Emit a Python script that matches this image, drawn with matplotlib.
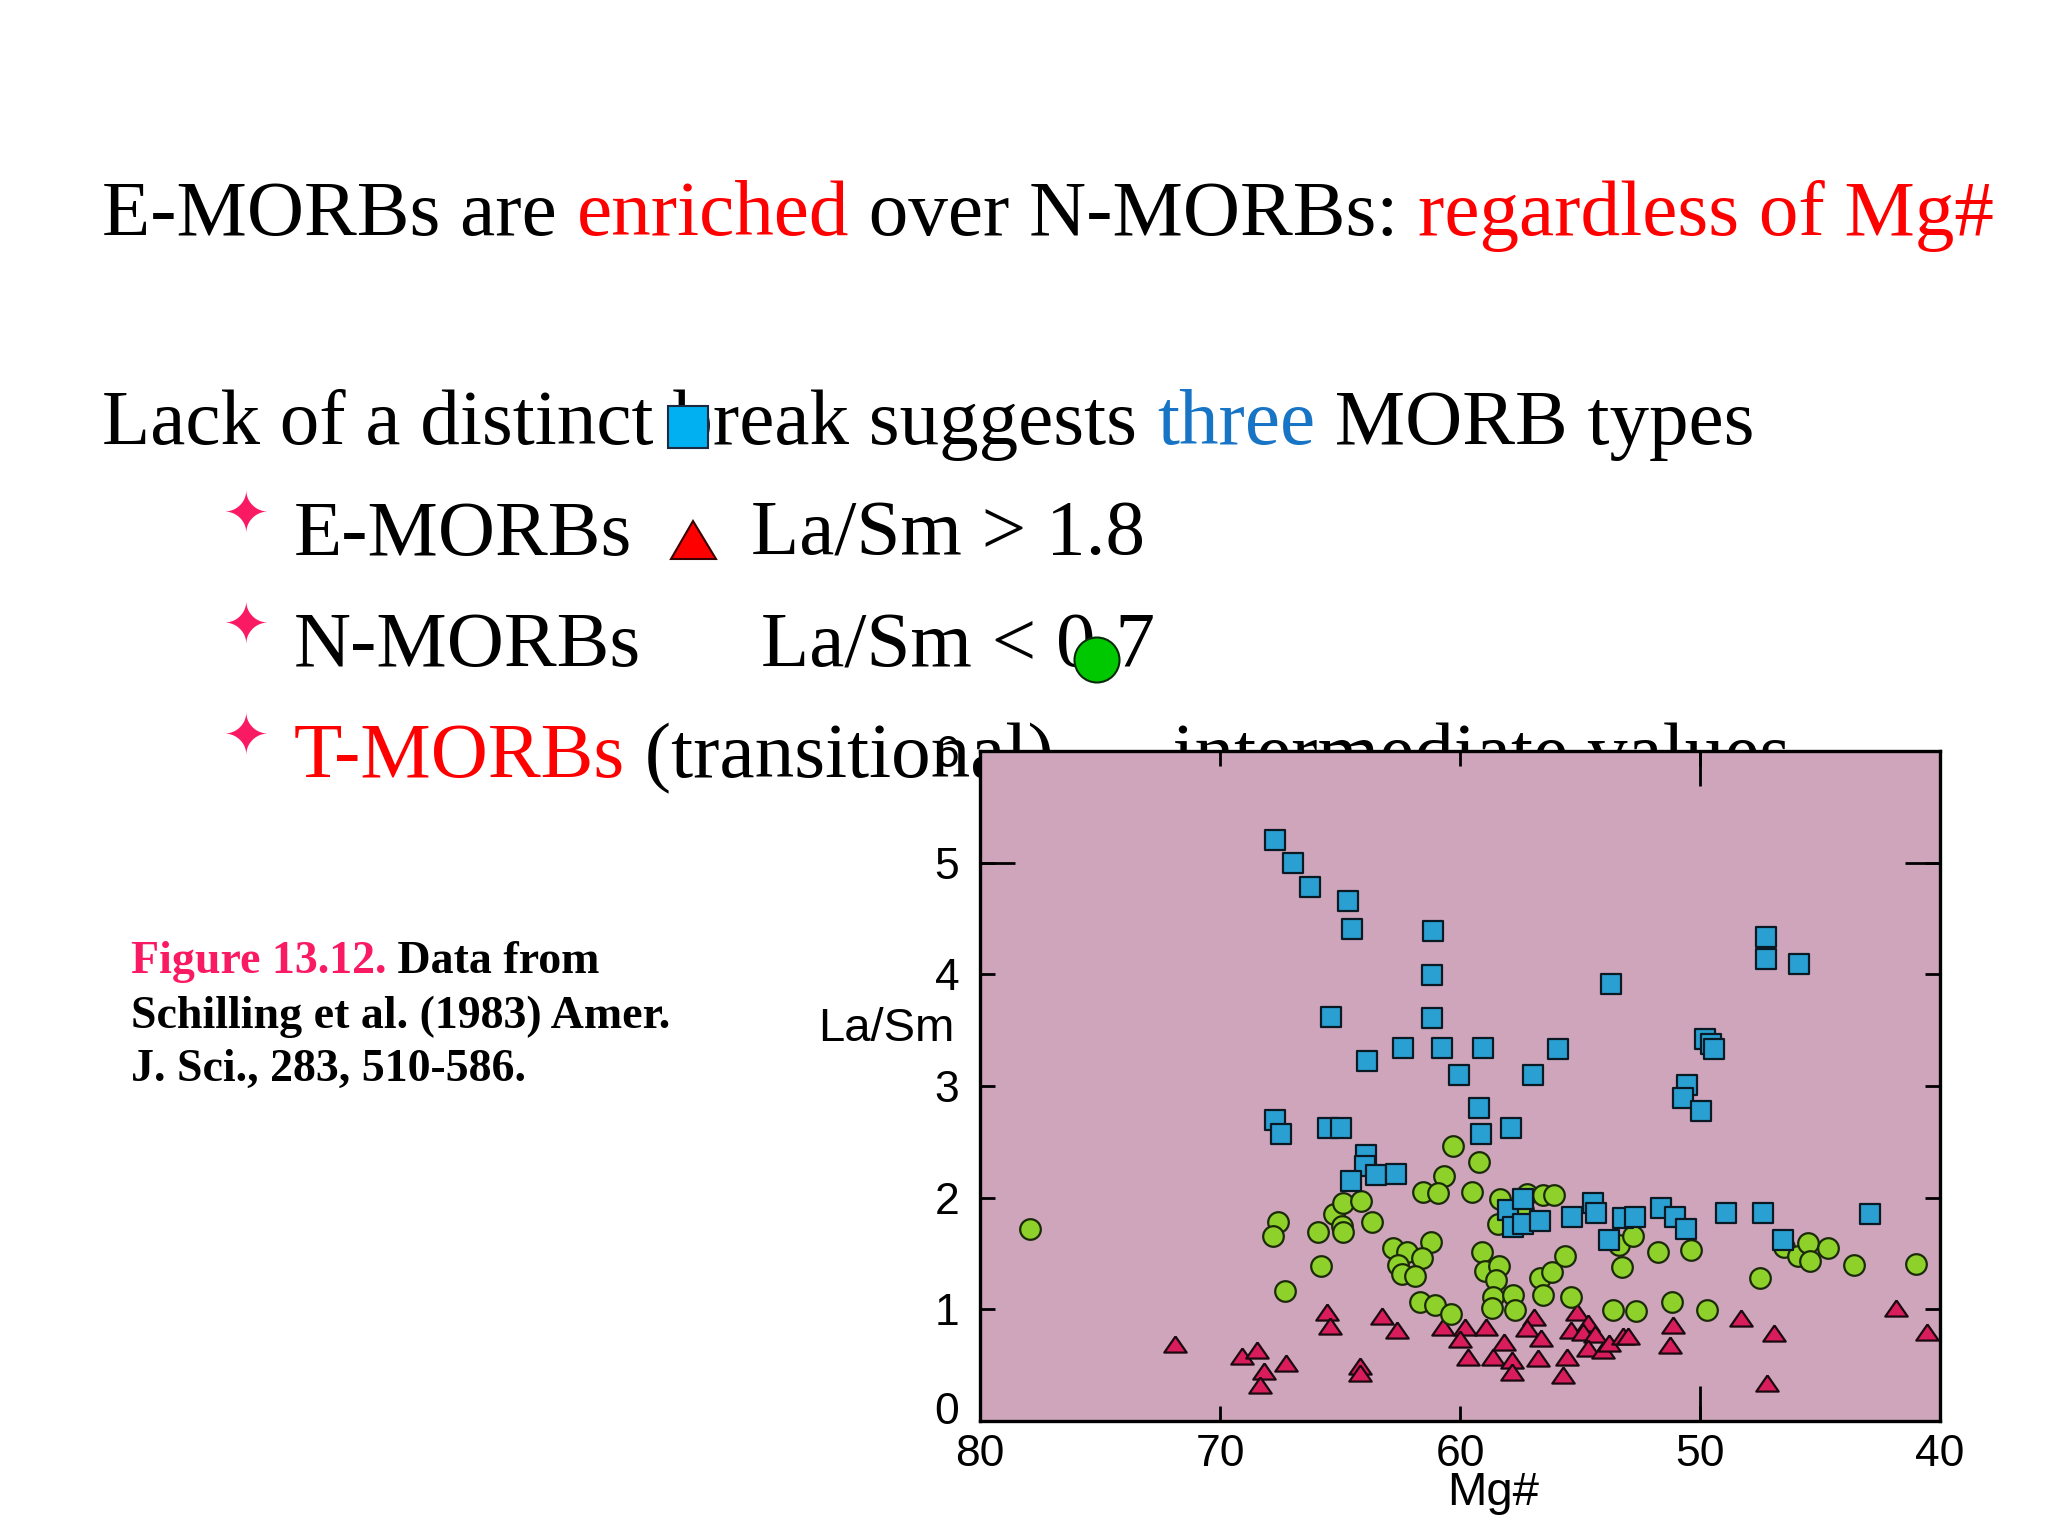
import matplotlib
matplotlib.use('Agg')
import matplotlib.pyplot as plt
from matplotlib.patches import Rectangle, Polygon, Ellipse
from matplotlib.transforms import ScaledTranslation

# ---- data (Mg#, La/Sm) ----
sq_mg = [67.70, 66.97, 66.25, 64.65, 64.52, 61.12, 61.17, 47.26, 47.26, 45.88,
         53.72, 65.37, 61.17, 62.37, 60.74, 59.04, 55.93, 63.88, 60.05, 56.97,
         49.80, 49.55, 49.41, 50.56, 50.69, 49.95, 59.20, 59.12, 57.87, 67.71,
         67.45, 65.50, 64.95, 63.93, 63.96, 63.52, 62.68, 64.54, 57.99, 57.80,
         57.36, 56.67, 57.36, 55.32, 54.44, 54.35, 53.20, 52.71, 53.78, 51.62,
         51.04, 50.60, 48.92, 47.36, 42.92, 46.53]
sq_lasm = [5.20, 5.00, 4.78, 4.66, 4.41, 4.39, 3.99, 4.33, 4.14, 4.09,
           3.91, 3.62, 3.61, 3.34, 3.34, 3.34, 3.33, 3.22, 3.10, 3.10,
           3.42, 3.38, 3.33, 3.01, 2.89, 2.78, 2.80, 2.57, 2.62, 2.70,
           2.57, 2.62, 2.62, 2.38, 2.28, 2.20, 2.21, 2.15, 1.89, 1.74,
           1.76, 1.79, 1.99, 1.83, 1.955, 1.865, 1.82, 1.83, 1.62, 1.91,
           1.83, 1.72, 1.865, 1.865, 1.85, 1.62]

ci_mg = [77.92, 67.57, 67.78, 65.93, 65.80, 67.29, 65.25, 64.86, 64.14, 64.93,
         64.86, 63.68, 60.31, 59.21, 60.65, 61.53, 60.90, 59.51, 58.33, 57.19,
         56.53, 56.08, 57.36, 58.40, 62.78, 62.22, 61.21, 61.60, 62.57, 62.43,
         61.87, 61.67, 61.04, 60.39, 59.10, 58.96, 58.36, 58.51, 58.61, 58.68,
         57.81, 57.71, 56.67, 56.18, 56.53, 55.63, 55.39, 53.36, 52.80, 53.27,
         51.74, 53.61, 52.67, 50.38, 51.18, 49.72, 47.50, 46.50, 45.93, 45.49,
         45.42, 44.68, 43.58, 41.01]
ci_lasm = [1.72, 1.78, 1.66, 1.69, 1.39, 1.16, 1.85, 1.95, 1.97, 1.75,
           1.69, 1.78, 2.46, 2.32, 2.19, 2.05, 2.04, 2.05, 1.99, 2.03,
           2.02, 2.02, 1.89, 1.76, 1.55, 1.515, 1.60, 1.46, 1.40, 1.32,
           1.30, 1.07, 1.04, 0.955, 1.515, 1.34, 1.39, 1.26, 1.11, 1.01,
           1.13, 0.99, 1.28, 1.33, 1.13, 1.48, 1.11, 1.575, 1.66, 1.38,
           1.51, 0.99, 0.985, 1.53, 1.07, 0.99, 1.28, 1.555, 1.48, 1.59,
           1.43, 1.545, 1.40, 1.41]

tr_mg = [71.88, 69.07, 68.47, 67.26, 68.17, 68.33, 65.56, 65.42, 63.24, 62.61,
         60.69, 59.79, 60.00, 58.93, 59.68, 58.61, 58.15, 57.85, 57.85, 64.17,
         64.17, 56.90, 57.22, 56.63, 56.76, 55.53, 55.69, 55.14, 55.39, 54.65,
         54.86, 54.37, 54.65, 54.03, 53.78, 53.20, 53.02, 51.11, 51.25, 48.31,
         46.92, 47.19, 41.85, 40.53]
tr_lasm = [0.69, 0.58, 0.64, 0.52, 0.45, 0.32, 0.98, 0.85, 0.94, 0.815,
           0.845, 0.845, 0.735, 0.845, 0.575, 0.575, 0.71, 0.55, 0.44, 0.49,
           0.43, 0.93, 0.83, 0.74, 0.56, 0.575, 0.41, 0.98, 0.815, 0.875,
           0.80, 0.78, 0.65, 0.635, 0.695, 0.765, 0.765, 0.86, 0.68, 0.92,
           0.785, 0.34, 1.01, 0.80]

x_ticks = [80, 70, 60, 50, 40]
y_ticks = [0, 1, 2, 3, 4, 5, 6]

W, H = 2048, 1536
SERIF = 'Liberation Serif'
SANS = 'Liberation Sans'
RED = '#ff0000'
PINK = '#fa1a64'

fig = plt.figure(figsize=(W / 100, H / 100), dpi=100)
fig.patch.set_facecolor('white')
rend = fig.canvas.get_renderer()


def text_w(s, size, weight='normal'):
    def w(q):
        t = fig.text(0, 0, q, fontsize=size, fontfamily=SERIF, fontweight=weight)
        e = t.get_window_extent(rend).width
        t.remove()
        return e
    return w('|' + s + '|') - w('||')


def runs(x, y, parts, size, weight='normal'):
    # x, y in pixels from the top-left corner, y is the baseline
    for s, c in parts:
        fig.text(x / W, 1 - y / H, s, color=c, fontsize=size, fontfamily=SERIF,
                 fontweight=weight, ha='left', va='baseline', zorder=1)
        x += text_w(s, size, weight)
    return x


def bullet(y):
    fig.text(246 / W, 1 - (y - 38) / H, '\u2726', color=PINK, fontsize=40,
             fontfamily='DejaVu Sans', ha='center', va='center', zorder=1)


# slide text
runs(102, 235, [('E-MORBs are ', 'black'), ('enriched', RED), (' over N-MORBs: ', 'black'),
                ('regardless of Mg#', RED)], 57)
runs(102, 444, [('Lack of a distinct break suggests ', 'black'), ('three', '#1874c4'),
                (' MORB types', 'black')], 57)
bullet(555)
runs(294, 555, [('E-MORBs', 'black')], 57)
runs(751, 555, [('La/Sm > 1.8', 'black')], 57)
bullet(666)
runs(294, 666, [('N-MORBs', 'black')], 57)
runs(761, 666, [('La/Sm < 0.7', 'black')], 57)
bullet(777)
runs(294, 777, [('T-MORBs', RED), (' (transitional) \u2014 intermediate values', 'black')], 57)

# caption
runs(131, 973, [('Figure 13.12.', PINK), (' Data from', 'black')], 33, 'bold')
runs(131, 1028, [('Schilling et al. (1983) Amer.', 'black')], 33, 'bold')
runs(131, 1081, [('J. Sci., 283, 510-586.', 'black')], 33, 'bold')


# symbols pasted on top of the text
def fx(px):
    return px / W


def fy(py):
    return 1 - py / H


fig.add_artist(Rectangle((fx(668), fy(448)), 40 / W, 42 / H, transform=fig.transFigure,
                         facecolor='#00b0f0', edgecolor='#1b2a40', lw=1.5, zorder=4))
fig.add_artist(Polygon([(fx(671), fy(559)), (fx(716), fy(559)), (fx(693), fy(521))],
                       closed=True, transform=fig.transFigure,
                       facecolor='#ff0000', edgecolor='#3a0000', lw=1.5, zorder=4))
fig.add_artist(Ellipse((fx(1097), fy(660)), 45 / W, 45 / H, transform=fig.transFigure,
                       facecolor='#00c800', edgecolor='#0a2a0a', lw=1.5, zorder=4))

# the plot
ax = fig.add_axes([980 / W, 1 - 1421 / H, 960 / W, 670 / H])
ax.set_zorder(2)
ax.set_facecolor('#cfa5bb')

tri = [(0, 0.72), (-1, -0.72), (1, -0.72), (0, 0.72)]
ax.scatter(tr_mg, tr_lasm, marker=tri, s=260, facecolor='#d91c5c', edgecolor='#1a0a10',
           linewidth=1.6, zorder=3)
ax.scatter(ci_mg, ci_lasm, marker='o', s=220, facecolor='#8fd12b', edgecolor='#1a2a08',
           linewidth=1.6, zorder=3)
ax.scatter(sq_mg, sq_lasm, marker='s', s=200, facecolor='#2a9fd1', edgecolor='#0a1a24',
           linewidth=1.6, zorder=3)

ax.set_xlim(80, 40)
ax.set_ylim(0, 6)
ax.xaxis.remove_overlapping_locs = False
ax.yaxis.remove_overlapping_locs = False
ax.set_xticks(x_ticks)
ax.set_yticks(y_ticks)
ax.set_xticks([50], minor=True)
ax.set_yticks([5], minor=True)
for sp in ax.spines.values():
    sp.set_linewidth(2.4)
ax.tick_params(which='major', direction='in', length=11, width=2, top=True, right=True,
               labelsize=32)
ax.tick_params(which='minor', direction='in', length=25, width=2, top=True, bottom=True,
               left=True, right=True)
ax.tick_params(axis='y', pad=15)
ax.tick_params(axis='x', pad=9)
for lab in ax.get_xticklabels() + ax.get_yticklabels():
    lab.set_fontfamily(SANS)

# the "0" label sits a little above its tick in the original
zero_lab = ax.get_yticklabels()[0]
zero_lab.set_transform(zero_lab.get_transform() + ScaledTranslation(0, 9 / 72, fig.dpi_scale_trans))

ax.set_ylabel('La/Sm', fontsize=34, fontfamily=SANS, rotation=0, ha='center', va='center')
ax.yaxis.set_label_coords(-0.098, 0.585)
ax.set_xlabel('Mg#', fontsize=34, fontfamily=SANS, ha='center', va='center')
ax.xaxis.set_label_coords(0.534, -0.107)

fig.savefig('out.png', dpi=100)
